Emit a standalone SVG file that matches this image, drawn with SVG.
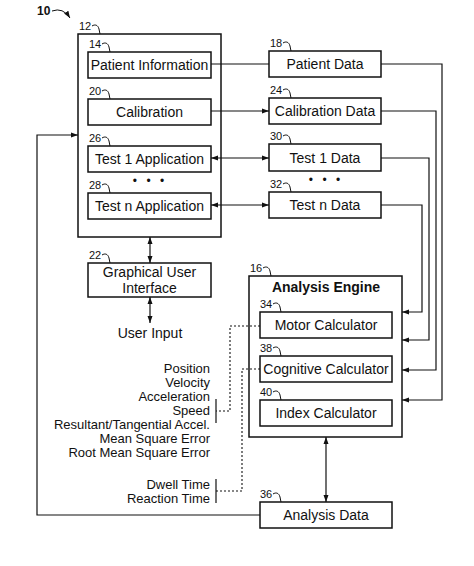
<svg xmlns="http://www.w3.org/2000/svg" width="474" height="566" viewBox="0 0 474 566">
<defs>
<marker id="ah" markerUnits="userSpaceOnUse" markerWidth="8" markerHeight="6" refX="7" refY="3" orient="auto-start-reverse">
<path d="M0,0.5 L7,3 L0,5.5 z" fill="#111"/>
</marker>
<style>
.box{fill:#fff;stroke:#111;stroke-width:1.5}
.t{font-family:"Liberation Sans",Arial,sans-serif;font-size:14px;fill:#111;text-anchor:middle}
.tr{font-family:"Liberation Sans",Arial,sans-serif;font-size:13px;fill:#111;text-anchor:end}
.n{font-family:"Liberation Sans",Arial,sans-serif;font-size:11px;fill:#111}
.curl{fill:none;stroke:#111;stroke-width:1}
.c{fill:none;stroke:#111;stroke-width:1.2}
.d{fill:none;stroke:#111;stroke-width:1.1;stroke-dasharray:2,2}
</style>
</defs>
<rect width="474" height="566" fill="#fff"/>

<g id="fig-label">
<text x="37" y="15" class="n" style="font-weight:bold;font-size:12px">10</text>
<path d="M52,11 Q63,7 70,18" class="curl" marker-end="url(#ah)"/>
</g>

<g id="node-12">
<rect x="78" y="34" width="143" height="203" class="box"/>
<text x="79" y="30" class="n">12</text>
<path d="M92,26 c3,-2 6,-1 7,3 l1,5" class="curl"/>
<text x="150" y="185" class="t" style="font-size:12px;letter-spacing:3px">• • •</text>
</g>

<g id="node-14">
<rect x="88" y="52" width="123" height="26" class="box"/>
<text x="89" y="48" class="n">14</text>
<path d="M102,44 c3,-2 6,-1 7,3 l1,5" class="curl"/>
<text x="149.5" y="70" class="t">Patient Information</text>
</g>

<g id="node-20">
<rect x="88" y="99" width="123" height="26" class="box"/>
<text x="89" y="95" class="n">20</text>
<path d="M102,91 c3,-2 6,-1 7,3 l1,5" class="curl"/>
<text x="149.5" y="117" class="t">Calibration</text>
</g>

<g id="node-26">
<rect x="88" y="146" width="123" height="26" class="box"/>
<text x="89" y="142" class="n">26</text>
<path d="M102,138 c3,-2 6,-1 7,3 l1,5" class="curl"/>
<text x="149.5" y="164" class="t">Test 1 Application</text>
</g>

<g id="node-28">
<rect x="88" y="193" width="123" height="26" class="box"/>
<text x="89" y="189" class="n">28</text>
<path d="M102,185 c3,-2 6,-1 7,3 l1,5" class="curl"/>
<text x="149.5" y="211" class="t">Test n Application</text>
</g>

<g id="node-22">
<rect x="88" y="263" width="123" height="34" class="box"/>
<text x="89" y="259" class="n">22</text>
<path d="M102,255 c3,-2 6,-1 7,3 l1,5" class="curl"/>
<text x="149.5" y="277" class="t">Graphical User</text>
<text x="149.5" y="293" class="t">Interface</text>
</g>

<g id="user-input">
<text x="150" y="338" class="t">User Input</text>
</g>

<g id="node-18">
<rect x="269" y="51" width="112" height="26" class="box"/>
<text x="270" y="47" class="n">18</text>
<path d="M283,43 c3,-2 6,-1 7,3 l1,5" class="curl"/>
<text x="325" y="69" class="t">Patient Data</text>
</g>

<g id="node-24">
<rect x="269" y="98" width="112" height="26" class="box"/>
<text x="270" y="94" class="n">24</text>
<path d="M283,90 c3,-2 6,-1 7,3 l1,5" class="curl"/>
<text x="325" y="116" class="t">Calibration Data</text>
</g>

<g id="node-30">
<rect x="269" y="144" width="112" height="27" class="box"/>
<text x="270" y="140" class="n">30</text>
<path d="M283,136 c3,-2 6,-1 7,3 l1,5" class="curl"/>
<text x="325" y="163" class="t">Test 1 Data</text>
<text x="326" y="184" class="t" style="font-size:12px;letter-spacing:3px">• • •</text>
</g>

<g id="node-32">
<rect x="269" y="192" width="112" height="26" class="box"/>
<text x="270" y="188" class="n">32</text>
<path d="M283,184 c3,-2 6,-1 7,3 l1,5" class="curl"/>
<text x="325" y="210" class="t">Test n Data</text>
</g>

<g id="node-16">
<rect x="249" y="276" width="153" height="161" class="box"/>
<text x="250" y="272" class="n">16</text>
<path d="M263,268 c3,-2 6,-1 7,3 l1,5" class="curl"/>
<text x="326" y="292" class="t" style="font-weight:bold">Analysis Engine</text>
</g>

<g id="node-34">
<rect x="260" y="312" width="132" height="26" class="box"/>
<text x="260" y="308" class="n">34</text>
<path d="M273,304 c3,-2 6,-1 7,3 l1,5" class="curl"/>
<text x="326" y="330" class="t">Motor Calculator</text>
</g>

<g id="node-38">
<rect x="260" y="356" width="132" height="26" class="box"/>
<text x="260" y="352" class="n">38</text>
<path d="M273,348 c3,-2 6,-1 7,3 l1,5" class="curl"/>
<text x="326" y="374" class="t">Cognitive Calculator</text>
</g>

<g id="node-40">
<rect x="260" y="400" width="132" height="26" class="box"/>
<text x="260" y="396" class="n">40</text>
<path d="M273,392 c3,-2 6,-1 7,3 l1,5" class="curl"/>
<text x="326" y="418" class="t">Index Calculator</text>
</g>

<g id="node-36">
<rect x="260" y="502" width="132" height="26" class="box"/>
<text x="260" y="498" class="n">36</text>
<path d="M273,494 c3,-2 6,-1 7,3 l1,5" class="curl"/>
<text x="326" y="520" class="t">Analysis Data</text>
</g>

<g id="motor-params">
<text x="210" y="373" class="tr">Position</text>
<text x="210" y="387" class="tr">Velocity</text>
<text x="210" y="401" class="tr">Acceleration</text>
<text x="210" y="415" class="tr">Speed</text>
<text x="210" y="429" class="tr">Resultant/Tangential Accel.</text>
<text x="210" y="443" class="tr">Mean Square Error</text>
<text x="210" y="457" class="tr">Root Mean Square Error</text>
</g>

<g id="cognitive-params">
<text x="210" y="489" class="tr">Dwell Time</text>
<text x="210" y="503" class="tr">Reaction Time</text>
</g>

<g id="connectors">
<path d="M211,64 H269" class="c"/>
<path d="M211,111 H269" class="c" marker-end="url(#ah)"/>
<path d="M211,158 H269" class="c" marker-start="url(#ah)" marker-end="url(#ah)"/>
<path d="M211,205 H269" class="c" marker-start="url(#ah)" marker-end="url(#ah)"/>
<path d="M381,64 H442 V400 H402" class="c" marker-end="url(#ah)"/>
<path d="M381,111 H436 V370 H402" class="c" marker-end="url(#ah)"/>
<path d="M381,158 H429 V340 H402" class="c" marker-end="url(#ah)"/>
<path d="M381,205 H422 V312 H402" class="c" marker-end="url(#ah)"/>
<path d="M150,237 V263" class="c" marker-start="url(#ah)" marker-end="url(#ah)"/>
<path d="M150,297 V323" class="c" marker-start="url(#ah)" marker-end="url(#ah)"/>
<path d="M326,437 V502" class="c" marker-start="url(#ah)" marker-end="url(#ah)"/>
<path d="M260,515 H37 V135 H78" class="c" marker-end="url(#ah)"/>
<path d="M260,326 H230 V411 H216" class="d"/>
<path d="M260,369 H242 V491 H216" class="d"/>
<path d="M216,399 V423" class="c"/>
<path d="M216,479 V503" class="c"/>
</g>
</svg>
